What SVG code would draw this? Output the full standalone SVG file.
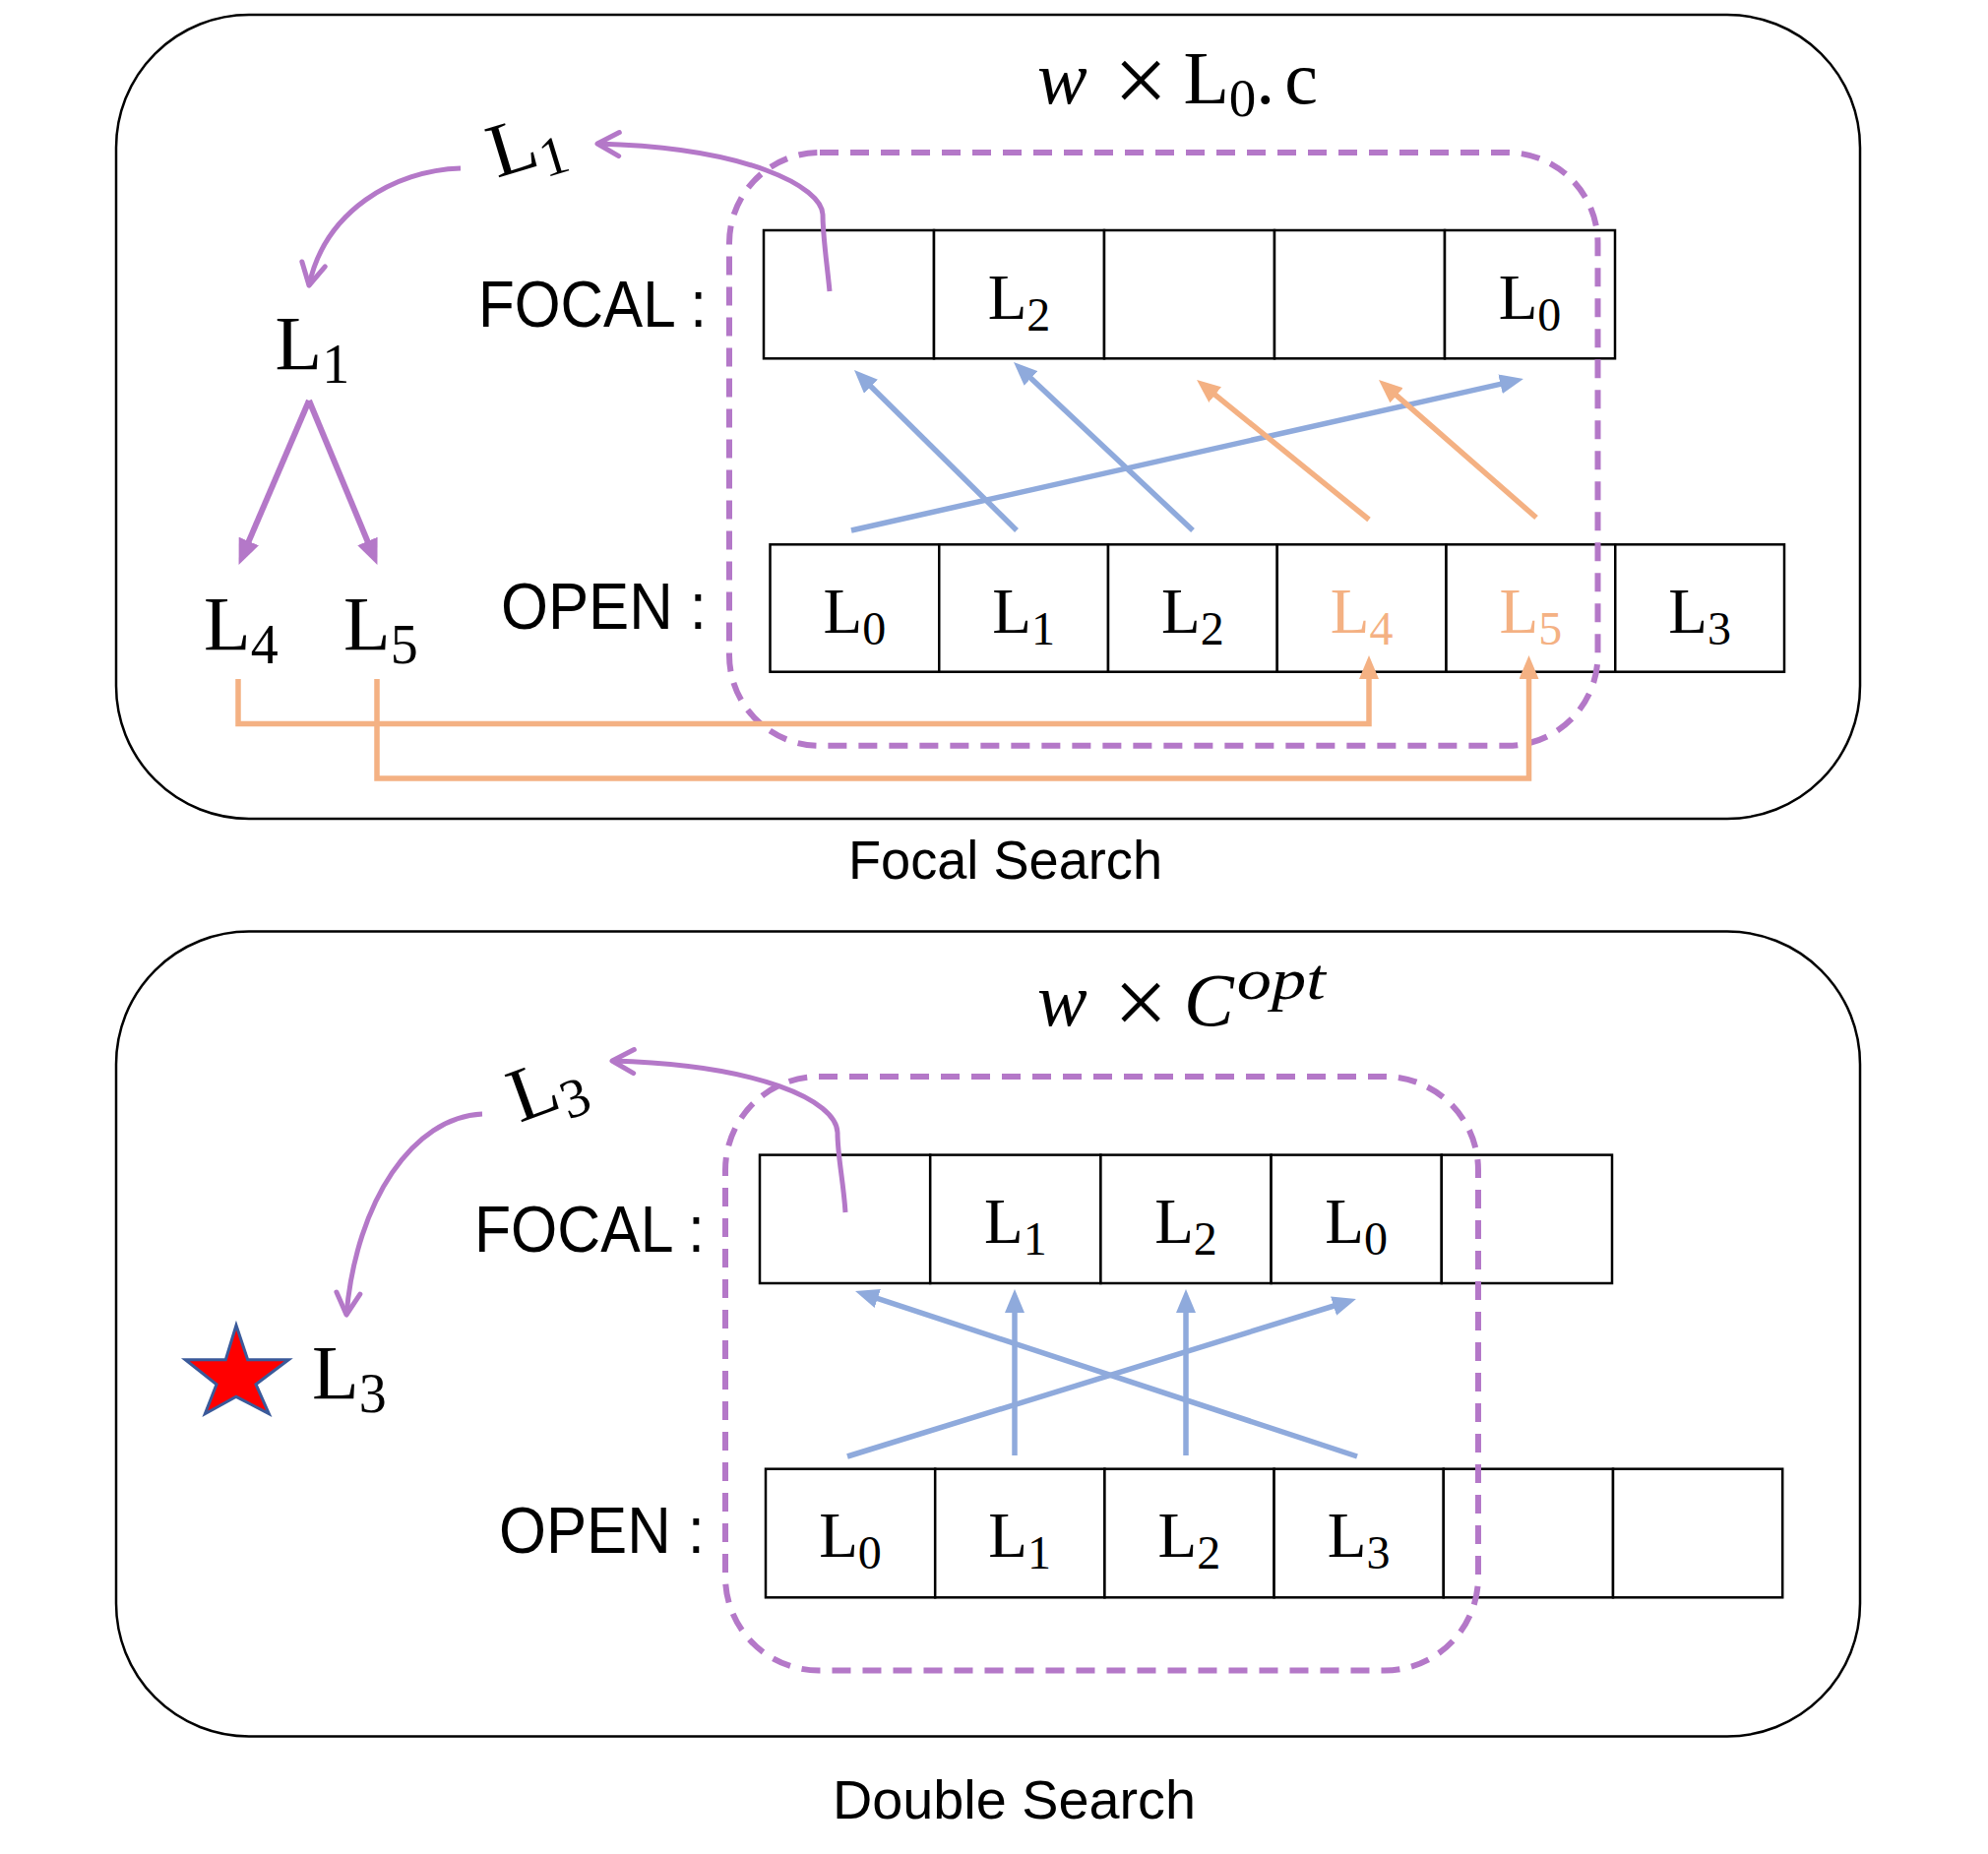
<svg xmlns="http://www.w3.org/2000/svg" width="2020" height="1884" viewBox="0 0 2020 1884">
<style>
.panel{fill:none;stroke:#000;stroke-width:2.5}
.cell{fill:#fff;stroke:#000;stroke-width:2.5}
.dash{fill:none;stroke:#B478C8;stroke-width:6;stroke-dasharray:19 12}
.cl{font-family:"Liberation Serif",serif;font-size:65px;fill:#000;text-anchor:middle}
.cl .s{font-size:48px}
.tl{font-family:"Liberation Serif",serif;font-size:78px;fill:#000}
.tl .s{font-size:56px}
.ttl{font-family:"Liberation Serif",serif;font-size:76px;fill:#000}
.lab{font-family:"Liberation Sans",Arial,sans-serif;font-size:66px;fill:#000}
.cap{font-family:"Liberation Sans",Arial,sans-serif;font-size:56px;fill:#000}
.org{fill:#F4B183}
.blue{fill:none;stroke:#8FAADC;stroke-width:5.5;marker-end:url(#ab)}
.orange{fill:none;stroke:#F4B183;stroke-width:5.5;marker-end:url(#ao)}
.ptree{fill:none;stroke:#B478C8;stroke-width:6;marker-end:url(#ap)}
.pcurve{fill:none;stroke:#B478C8;stroke-width:5;marker-end:url(#av)}
</style>
<defs>
<marker id="ab" viewBox="0 0 24 20" markerUnits="userSpaceOnUse" markerWidth="24" markerHeight="20" refX="14" refY="10" orient="auto"><path d="M0,0 L24,10 L0,20 z" fill="#8FAADC"/></marker>
<marker id="ao" viewBox="0 0 24 20" markerUnits="userSpaceOnUse" markerWidth="24" markerHeight="20" refX="14" refY="10" orient="auto"><path d="M0,0 L24,10 L0,20 z" fill="#F4B183"/></marker>
<marker id="ap" viewBox="0 0 26 22" markerUnits="userSpaceOnUse" markerWidth="26" markerHeight="22" refX="15" refY="11" orient="auto"><path d="M0,0 L26,11 L0,22 z" fill="#B478C8"/></marker>
<marker id="av" viewBox="-4 -4 32 32" markerUnits="userSpaceOnUse" markerWidth="32" markerHeight="32" refX="22" refY="12" orient="auto"><path d="M0,0 L22,12 L0,24" fill="none" stroke="#B478C8" stroke-width="5" stroke-linecap="round" stroke-linejoin="round"/></marker>
</defs>

<g id="focal-search">
<rect id="focal-panel" class="panel" x="118" y="15" width="1772" height="817" rx="135" ry="135"/>
<text id="focal-title" class="ttl" x="1054" y="104.5"><tspan font-style="italic">w</tspan><tspan dx="27" dy="9" font-size="97">×</tspan><tspan dx="16" dy="-9">L</tspan><tspan dx="0" dy="13.5" font-size="55">0</tspan><tspan dx="0" dy="-13.5">.</tspan><tspan dx="10">c</tspan></text>
<g id="focal-focal-row">
<text class="lab" x="486" y="332" textLength="232" lengthAdjust="spacingAndGlyphs">FOCAL :</text>
<rect class="cell" x="776" y="234" width="173" height="130.3"/>
<rect class="cell" x="949" y="234" width="173" height="130.3"/>
<rect class="cell" x="1122" y="234" width="173" height="130.3"/>
<rect class="cell" x="1295" y="234" width="173" height="130.3"/>
<rect class="cell" x="1468" y="234" width="173" height="130.3"/>
<text class="cl" x="1035.5" y="323.5">L<tspan class="s" dy="12">2</tspan></text>
<text class="cl" x="1554.5" y="323.5">L<tspan class="s" dy="12">0</tspan></text>
</g>
<g id="focal-open-row">
<text class="lab" x="509" y="639" textLength="209" lengthAdjust="spacingAndGlyphs">OPEN :</text>
<rect class="cell" x="782.5" y="553.3" width="171.75" height="129.4"/>
<rect class="cell" x="954.25" y="553.3" width="171.75" height="129.4"/>
<rect class="cell" x="1126" y="553.3" width="171.75" height="129.4"/>
<rect class="cell" x="1297.75" y="553.3" width="171.75" height="129.4"/>
<rect class="cell" x="1469.5" y="553.3" width="171.75" height="129.4"/>
<rect class="cell" x="1641.25" y="553.3" width="171.75" height="129.4"/>
<text class="cl" x="868.4" y="642.5">L<tspan class="s" dy="12">0</tspan></text>
<text class="cl" x="1040.1" y="642.5">L<tspan class="s" dy="12">1</tspan></text>
<text class="cl" x="1211.9" y="642.5">L<tspan class="s" dy="12">2</tspan></text>
<text class="cl org" x="1383.6" y="642.5">L<tspan class="s" dy="12">4</tspan></text>
<text class="cl org" x="1555.4" y="642.5">L<tspan class="s" dy="12">5</tspan></text>
<text class="cl" x="1727.1" y="642.5">L<tspan class="s" dy="12">3</tspan></text>
</g>
<g id="focal-frame"><rect class="dash" x="741" y="155" width="882.5" height="602.8" rx="92" ry="92"/></g>
<g id="focal-tree">
<text class="tl" transform="translate(505 181) rotate(-17)">L<tspan class="s" dy="14">1</tspan></text>
<text class="tl" x="279.5" y="375">L<tspan class="s" dy="14">1</tspan></text>
<text class="tl" x="207" y="660">L<tspan class="s" dy="14">4</tspan></text>
<text class="tl" x="349" y="660">L<tspan class="s" dy="14">5</tspan></text>
</g>
<text id="focal-caption" class="cap" x="862" y="893" textLength="319" lengthAdjust="spacingAndGlyphs">Focal Search</text>
</g>

<g id="double-search">
<rect id="double-panel" class="panel" x="118" y="946.5" width="1772" height="818" rx="135" ry="135"/>
<text id="double-title" class="ttl" x="1054" y="1042"><tspan font-style="italic">w</tspan><tspan dx="27" dy="9" font-size="97">×</tspan><tspan dx="16.6" dy="-9" font-style="italic">C</tspan><tspan dx="3" dy="-27" font-size="60" font-style="italic" textLength="90" lengthAdjust="spacingAndGlyphs">opt</tspan></text>
<g id="double-focal-row">
<text class="lab" x="482" y="1272" textLength="234" lengthAdjust="spacingAndGlyphs">FOCAL :</text>
<rect class="cell" x="772" y="1173.6" width="173.2" height="130.4"/>
<rect class="cell" x="945.2" y="1173.6" width="173.2" height="130.4"/>
<rect class="cell" x="1118.4" y="1173.6" width="173.2" height="130.4"/>
<rect class="cell" x="1291.6" y="1173.6" width="173.2" height="130.4"/>
<rect class="cell" x="1464.8" y="1173.6" width="173.2" height="130.4"/>
<text class="cl" x="1031.8" y="1263">L<tspan class="s" dy="12">1</tspan></text>
<text class="cl" x="1205" y="1263">L<tspan class="s" dy="12">2</tspan></text>
<text class="cl" x="1378.2" y="1263">L<tspan class="s" dy="12">0</tspan></text>
</g>
<g id="double-open-row">
<text class="lab" x="507" y="1578" textLength="209" lengthAdjust="spacingAndGlyphs">OPEN :</text>
<rect class="cell" x="778" y="1492.7" width="172.2" height="130.6"/>
<rect class="cell" x="950.2" y="1492.7" width="172.2" height="130.6"/>
<rect class="cell" x="1122.4" y="1492.7" width="172.2" height="130.6"/>
<rect class="cell" x="1294.6" y="1492.7" width="172.2" height="130.6"/>
<rect class="cell" x="1466.8" y="1492.7" width="172.2" height="130.6"/>
<rect class="cell" x="1639" y="1492.7" width="172.2" height="130.6"/>
<text class="cl" x="864" y="1582.3">L<tspan class="s" dy="12">0</tspan></text>
<text class="cl" x="1036.2" y="1582.3">L<tspan class="s" dy="12">1</tspan></text>
<text class="cl" x="1208.4" y="1582.3">L<tspan class="s" dy="12">2</tspan></text>
<text class="cl" x="1380.6" y="1582.3">L<tspan class="s" dy="12">3</tspan></text>
</g>
<g id="double-frame"><rect class="dash" x="737" y="1094" width="765" height="603.5" rx="95" ry="95"/></g>
<g id="double-goal">
<text class="tl" transform="translate(528 1141) rotate(-20)">L<tspan class="s" dy="14">3</tspan></text>
<polygon id="goal-star" points="240,1346.7 251.7,1381.7 293.3,1381.7 260,1406.7 273.3,1436.7 240,1419.3 208.3,1436.7 220,1406.7 188.3,1381.7 229.3,1381.7" fill="#FF0000" stroke="#3A5A9A" stroke-width="3" stroke-linejoin="miter"/>
<text class="tl" x="317" y="1421">L<tspan class="s" dy="14">3</tspan></text>
</g>
<text id="double-caption" class="cap" x="846" y="1848" textLength="369" lengthAdjust="spacingAndGlyphs">Double Search</text>
</g>

<g id="connectors">
<path class="blue" d="M865 539 L1538.2 387.2"/>
<path class="blue" d="M1033 539 L875.1 383"/>
<path class="blue" d="M1212 539 L1037.3 374.8"/>
<path class="orange" d="M1391 528 L1223.8 392.3"/>
<path class="orange" d="M1561 526 L1408.5 392.6"/>
<path class="orange" d="M242 690 V735.5 H1391 V676"/>
<path class="orange" d="M383 690 V791 H1553.5 V676"/>
<path class="ptree" d="M314 407 L246.9 563.8"/>
<path class="ptree" d="M314 407 L379.2 563.8"/>
<path class="pcurve" d="M468 171 C400 173 330 215 314 290"/>
<path class="pcurve" d="M843 296 C840 265 836 240 836 218 C835 190 760 150 607 146"/>
<path class="blue" d="M861 1480 L1368.4 1323"/>
<path class="blue" d="M1379 1480 L878.5 1315.1"/>
<path class="blue" d="M1031 1479 V1320"/>
<path class="blue" d="M1205 1479 V1320"/>
<path class="pcurve" d="M490 1132 C420 1135 362 1220 352 1336"/>
<path class="pcurve" d="M859 1232 C857 1200 851 1175 851 1151 C850 1118 770 1082 622 1078"/>
</g>
</svg>
